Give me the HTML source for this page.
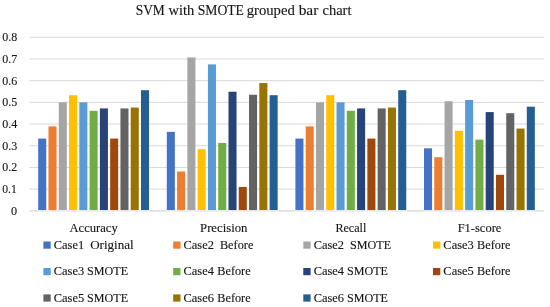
<!DOCTYPE html>
<html><head><meta charset="utf-8"><title>SVM with SMOTE grouped bar chart</title>
<style>html,body{margin:0;padding:0;background:#fff;overflow:hidden}svg{display:block}text{font-family:"Liberation Serif",serif;fill:#161616;stroke:#161616;stroke-width:0.12}</style></head><body>
<svg width="550" height="307" viewBox="0 0 550 307">
<rect width="550" height="307" fill="#fff"/>
<line x1="29.3" x2="543.7" y1="189.11" y2="189.11" stroke="#d9d9d9" stroke-width="1"/>
<line x1="29.3" x2="543.7" y1="167.42" y2="167.42" stroke="#d9d9d9" stroke-width="1"/>
<line x1="29.3" x2="543.7" y1="145.73" y2="145.73" stroke="#d9d9d9" stroke-width="1"/>
<line x1="29.3" x2="543.7" y1="124.04" y2="124.04" stroke="#d9d9d9" stroke-width="1"/>
<line x1="29.3" x2="543.7" y1="102.35" y2="102.35" stroke="#d9d9d9" stroke-width="1"/>
<line x1="29.3" x2="543.7" y1="80.66" y2="80.66" stroke="#d9d9d9" stroke-width="1"/>
<line x1="29.3" x2="543.7" y1="58.97" y2="58.97" stroke="#d9d9d9" stroke-width="1"/>
<line x1="29.3" x2="543.7" y1="37.28" y2="37.28" stroke="#d9d9d9" stroke-width="1"/>
<rect x="38.20" y="138.57" width="8.05" height="71.73" fill="#4472C4"/>
<rect x="48.48" y="126.43" width="8.05" height="83.87" fill="#ED7D31"/>
<rect x="58.76" y="102.35" width="8.05" height="107.95" fill="#A5A5A5"/>
<rect x="69.04" y="95.19" width="8.05" height="115.11" fill="#FFC000"/>
<rect x="79.32" y="102.35" width="8.05" height="107.95" fill="#5B9BD5"/>
<rect x="89.60" y="110.81" width="8.05" height="99.49" fill="#70AD47"/>
<rect x="99.88" y="108.42" width="8.05" height="101.88" fill="#264478"/>
<rect x="110.16" y="138.57" width="8.05" height="71.73" fill="#9E480E"/>
<rect x="120.44" y="108.42" width="8.05" height="101.88" fill="#636363"/>
<rect x="130.72" y="107.56" width="8.05" height="102.74" fill="#997300"/>
<rect x="141.00" y="90.20" width="8.05" height="120.10" fill="#255E91"/>
<rect x="166.80" y="131.85" width="8.05" height="78.45" fill="#4472C4"/>
<rect x="177.08" y="171.54" width="8.05" height="38.76" fill="#ED7D31"/>
<rect x="187.36" y="57.45" width="8.05" height="152.85" fill="#A5A5A5"/>
<rect x="197.64" y="149.20" width="8.05" height="61.10" fill="#FFC000"/>
<rect x="207.92" y="64.39" width="8.05" height="145.91" fill="#5B9BD5"/>
<rect x="218.20" y="142.91" width="8.05" height="67.39" fill="#70AD47"/>
<rect x="228.48" y="91.72" width="8.05" height="118.58" fill="#264478"/>
<rect x="238.76" y="186.94" width="8.05" height="23.36" fill="#9E480E"/>
<rect x="249.04" y="94.76" width="8.05" height="115.54" fill="#636363"/>
<rect x="259.32" y="83.05" width="8.05" height="127.25" fill="#997300"/>
<rect x="269.60" y="95.19" width="8.05" height="115.11" fill="#255E91"/>
<rect x="295.40" y="138.57" width="8.05" height="71.73" fill="#4472C4"/>
<rect x="305.68" y="126.43" width="8.05" height="83.87" fill="#ED7D31"/>
<rect x="315.96" y="102.35" width="8.05" height="107.95" fill="#A5A5A5"/>
<rect x="326.24" y="95.19" width="8.05" height="115.11" fill="#FFC000"/>
<rect x="336.52" y="102.35" width="8.05" height="107.95" fill="#5B9BD5"/>
<rect x="346.80" y="110.81" width="8.05" height="99.49" fill="#70AD47"/>
<rect x="357.08" y="108.42" width="8.05" height="101.88" fill="#264478"/>
<rect x="367.36" y="138.57" width="8.05" height="71.73" fill="#9E480E"/>
<rect x="377.64" y="108.42" width="8.05" height="101.88" fill="#636363"/>
<rect x="387.92" y="107.56" width="8.05" height="102.74" fill="#997300"/>
<rect x="398.20" y="90.20" width="8.05" height="120.10" fill="#255E91"/>
<rect x="424.00" y="148.33" width="8.05" height="61.97" fill="#4472C4"/>
<rect x="434.28" y="157.23" width="8.05" height="53.07" fill="#ED7D31"/>
<rect x="444.56" y="101.27" width="8.05" height="109.03" fill="#A5A5A5"/>
<rect x="454.84" y="130.76" width="8.05" height="79.54" fill="#FFC000"/>
<rect x="465.12" y="99.96" width="8.05" height="110.34" fill="#5B9BD5"/>
<rect x="475.40" y="139.66" width="8.05" height="70.64" fill="#70AD47"/>
<rect x="485.68" y="112.11" width="8.05" height="98.19" fill="#264478"/>
<rect x="495.96" y="174.79" width="8.05" height="35.51" fill="#9E480E"/>
<rect x="506.24" y="113.20" width="8.05" height="97.11" fill="#636363"/>
<rect x="516.52" y="128.59" width="8.05" height="81.71" fill="#997300"/>
<rect x="526.80" y="106.69" width="8.05" height="103.61" fill="#255E91"/>
<line x1="29.3" x2="543.7" y1="210.85000000000002" y2="210.85000000000002" stroke="#d4d4d4" stroke-width="1.15"/>
<rect x="37.60" y="210.20" width="112.05" height="1.3" fill="#ffffff" fill-opacity="0.6"/>
<rect x="166.20" y="210.20" width="112.05" height="1.3" fill="#ffffff" fill-opacity="0.6"/>
<rect x="294.80" y="210.20" width="112.05" height="1.3" fill="#ffffff" fill-opacity="0.6"/>
<rect x="423.40" y="210.20" width="112.05" height="1.3" fill="#ffffff" fill-opacity="0.6"/>
<text id="t0" x="11.05" y="214.65" font-size="11.8" textLength="6.10" lengthAdjust="spacingAndGlyphs">0</text>
<text id="t1" x="2.15" y="192.99" font-size="11.8" textLength="14.60" lengthAdjust="spacingAndGlyphs">0.1</text>
<text id="t2" x="2.15" y="171.33" font-size="11.8" textLength="15.00" lengthAdjust="spacingAndGlyphs">0.2</text>
<text id="t3" x="2.15" y="149.67" font-size="11.8" textLength="15.00" lengthAdjust="spacingAndGlyphs">0.3</text>
<text id="t4" x="2.15" y="128.02" font-size="11.8" textLength="15.00" lengthAdjust="spacingAndGlyphs">0.4</text>
<text id="t5" x="2.15" y="106.36" font-size="11.8" textLength="15.00" lengthAdjust="spacingAndGlyphs">0.5</text>
<text id="t6" x="2.15" y="84.70" font-size="11.8" textLength="15.00" lengthAdjust="spacingAndGlyphs">0.6</text>
<text id="t7" x="2.15" y="63.04" font-size="11.8" textLength="15.00" lengthAdjust="spacingAndGlyphs">0.7</text>
<text id="t8" x="2.15" y="41.38" font-size="11.8" textLength="15.00" lengthAdjust="spacingAndGlyphs">0.8</text>
<text id="t9" x="69.45" y="231.80" font-size="11.8" textLength="48.30" lengthAdjust="spacingAndGlyphs">Accuracy</text>
<text id="t10" x="200.05" y="231.80" font-size="11.8" textLength="47.40" lengthAdjust="spacingAndGlyphs">Precision</text>
<text id="t11" x="335.45" y="231.80" font-size="11.8" textLength="30.90" lengthAdjust="spacingAndGlyphs">Recall</text>
<text id="t12" x="457.65" y="231.80" font-size="11.8" textLength="43.70" lengthAdjust="spacingAndGlyphs">F1-score</text>
<text y="15.30" font-size="13.7"><tspan x="135.65" textLength="29.20" lengthAdjust="spacingAndGlyphs">SVM</tspan> <tspan x="168.45" textLength="25.80" lengthAdjust="spacingAndGlyphs">with</tspan> <tspan x="197.65" textLength="46.30" lengthAdjust="spacingAndGlyphs">SMOTE</tspan> <tspan x="246.65" textLength="48.20" lengthAdjust="spacingAndGlyphs">grouped</tspan> <tspan x="298.65" textLength="19.70" lengthAdjust="spacingAndGlyphs">bar</tspan> <tspan x="322.45" textLength="29.00" lengthAdjust="spacingAndGlyphs">chart</tspan></text>
<rect x="43.4" y="241.50" width="7.3" height="7.2" fill="#4472C4"/>
<text y="248.60" font-size="11.8"><tspan x="53.75" textLength="30.40" lengthAdjust="spacingAndGlyphs">Case1</tspan> <tspan x="90.15" textLength="43.50" lengthAdjust="spacingAndGlyphs">Original</tspan></text>
<rect x="173.2" y="241.50" width="7.3" height="7.2" fill="#ED7D31"/>
<text y="248.60" font-size="11.8"><tspan x="183.55" textLength="30.40" lengthAdjust="spacingAndGlyphs">Case2</tspan> <tspan x="219.95" textLength="33.40" lengthAdjust="spacingAndGlyphs">Before</tspan></text>
<rect x="303.3" y="241.50" width="7.3" height="7.2" fill="#A5A5A5"/>
<text y="248.60" font-size="11.8"><tspan x="313.65" textLength="30.40" lengthAdjust="spacingAndGlyphs">Case2</tspan> <tspan x="350.05" textLength="41.00" lengthAdjust="spacingAndGlyphs">SMOTE</tspan></text>
<rect x="433.0" y="241.50" width="7.3" height="7.2" fill="#FFC000"/>
<text y="248.60" font-size="11.8"><tspan x="443.35" textLength="30.40" lengthAdjust="spacingAndGlyphs">Case3</tspan> <tspan x="477.05" textLength="33.40" lengthAdjust="spacingAndGlyphs">Before</tspan></text>
<rect x="43.4" y="268.00" width="7.3" height="7.2" fill="#5B9BD5"/>
<text y="275.10" font-size="11.8"><tspan x="53.75" textLength="30.40" lengthAdjust="spacingAndGlyphs">Case3</tspan> <tspan x="87.05" textLength="41.00" lengthAdjust="spacingAndGlyphs">SMOTE</tspan></text>
<rect x="173.2" y="268.00" width="7.3" height="7.2" fill="#70AD47"/>
<text y="275.10" font-size="11.8"><tspan x="183.55" textLength="30.40" lengthAdjust="spacingAndGlyphs">Case4</tspan> <tspan x="217.25" textLength="33.40" lengthAdjust="spacingAndGlyphs">Before</tspan></text>
<rect x="303.3" y="268.00" width="7.3" height="7.2" fill="#264478"/>
<text y="275.10" font-size="11.8"><tspan x="313.65" textLength="30.40" lengthAdjust="spacingAndGlyphs">Case4</tspan> <tspan x="346.95" textLength="41.00" lengthAdjust="spacingAndGlyphs">SMOTE</tspan></text>
<rect x="433.0" y="268.00" width="7.3" height="7.2" fill="#9E480E"/>
<text y="275.10" font-size="11.8"><tspan x="443.35" textLength="30.40" lengthAdjust="spacingAndGlyphs">Case5</tspan> <tspan x="477.05" textLength="33.40" lengthAdjust="spacingAndGlyphs">Before</tspan></text>
<rect x="43.4" y="294.40" width="7.3" height="7.2" fill="#636363"/>
<text y="301.50" font-size="11.8"><tspan x="53.75" textLength="30.40" lengthAdjust="spacingAndGlyphs">Case5</tspan> <tspan x="87.05" textLength="41.00" lengthAdjust="spacingAndGlyphs">SMOTE</tspan></text>
<rect x="173.2" y="294.40" width="7.3" height="7.2" fill="#997300"/>
<text y="301.50" font-size="11.8"><tspan x="183.55" textLength="30.40" lengthAdjust="spacingAndGlyphs">Case6</tspan> <tspan x="217.25" textLength="33.40" lengthAdjust="spacingAndGlyphs">Before</tspan></text>
<rect x="303.3" y="294.40" width="7.3" height="7.2" fill="#255E91"/>
<text y="301.50" font-size="11.8"><tspan x="313.65" textLength="30.40" lengthAdjust="spacingAndGlyphs">Case6</tspan> <tspan x="346.95" textLength="41.00" lengthAdjust="spacingAndGlyphs">SMOTE</tspan></text>
</svg></body></html>
